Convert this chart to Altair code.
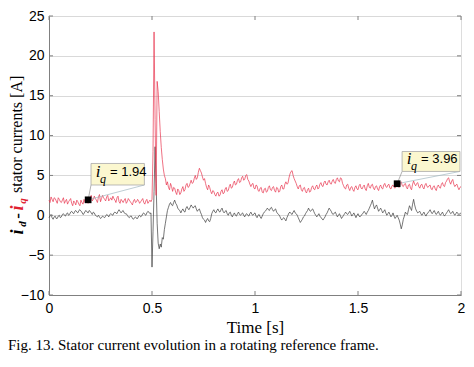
import altair as alt
import pandas as pd
import numpy as np

# ---------------- data ----------------
# before the load step (t = 0.00 ... 0.49, step 0.01)
t_pre = [0.00, 0.01, 0.02, 0.03, 0.04, 0.05, 0.06, 0.07, 0.08, 0.09,
         0.10, 0.11, 0.12, 0.13, 0.14, 0.15, 0.16, 0.17, 0.18, 0.19,
         0.20, 0.21, 0.22, 0.23, 0.24, 0.25, 0.26, 0.27, 0.28, 0.29,
         0.30, 0.31, 0.32, 0.33, 0.34, 0.35, 0.36, 0.37, 0.38, 0.39,
         0.40, 0.41, 0.42, 0.43, 0.44, 0.45, 0.46, 0.47, 0.48, 0.49]
iq_pre = [1.9, 2.3, 1.7, 2.1, 1.5, 2.0, 1.6, 2.2, 1.8, 1.4,
          1.9, 1.5, 1.8, 1.3, 1.7, 1.2, 1.6, 2.0, 1.9, 1.5,
          2.1, 1.8, 2.4, 1.9, 2.3, 1.7, 2.5, 2.0, 2.3, 1.8,
          2.2, 2.4, 1.9, 2.2, 1.7, 2.0, 1.6, 2.1, 1.7, 1.9,
          1.5, 1.8, 1.6, 2.0, 1.5, 1.9, 1.6, 1.8, 1.5, 1.9]
id_pre = [-0.3, 0.1, -0.5, -0.1, -0.4, 0.0, -0.2, 0.2, -0.1, 0.3,
          0.1, 0.5, 0.2, 0.6, 0.3, 0.7, 0.4, 0.2, 0.6, 0.3,
          0.5, 0.1, 0.3, -0.1, 0.0, -0.4, -0.1, -0.3, 0.1, -0.2,
          0.2, 0.0, 0.4, 0.2, 0.7, 0.3, 0.6, 0.2, 0.0, -0.3,
          -0.1, -0.5, -0.2, -0.4, 0.0, -0.1, 0.3, 0.0, 0.5, 0.2]
# in-between samples (t = 0.005 ... 0.485)
iq_pre_half = [1.6, 2.0, 2.2, 1.8, 2.2, 1.7, 1.9, 1.5, 2.0, 1.7,
               2.1, 1.2, 1.6, 1.9, 1.4, 1.9, 1.4, 1.6, 2.2, 1.8,
               2.5, 2.0, 2.1, 1.6, 2.6, 2.1, 2.2, 1.8, 2.5, 2.0,
               1.9, 2.1, 1.6, 2.4, 1.5, 1.8, 1.9, 1.5, 2.1, 1.7,
               1.3, 2.0, 1.7, 1.8, 1.7, 2.1, 1.4, 2.0, 1.7]
id_pre_half = [-0.1, -0.3, -0.2, -0.4, -0.1, -0.3, 0.1, 0.0, 0.2, 0.0,
               0.4, 0.3, 0.5, 0.4, 0.6, 0.5, 0.1, 0.5, 0.4, 0.6,
               0.3, 0.4, 0.0, -0.2, -0.2, -0.3, -0.2, -0.1, 0.0, 0.1,
               0.1, 0.3, 0.3, 0.5, 0.5, 0.5, 0.3, 0.2, -0.2, -0.1,
               -0.4, -0.3, -0.4, -0.1, -0.2, 0.2, 0.1, 0.3, 0.4]

# the transient
t_spike = [0.495, 0.500, 0.505, 0.510, 0.515, 0.520, 0.525, 0.530, 0.535,
           0.540, 0.545, 0.550, 0.555, 0.560, 0.565, 0.570, 0.575]
iq_spike = [1.7, 2.0, 8.0, 23.0, 12.0, 2.5, 16.8, 15.5, 13.0,
            10.5, 8.5, 7.0, 5.8, 5.0, 4.6, 3.8, 4.2]
id_spike = [0.3, -6.5, -2.0, 3.0, 8.6, 4.0, -1.0, -3.5, -4.2,
            -3.6, -4.0, -2.8, -3.0, -1.8, -1.0, -0.2, 0.6]

# after the transient (t = 0.58 ... 2.00, step 0.01)
iq_post = [3.5, 4.0, 3.0, 3.4, 2.6, 3.1, 2.8, 3.6, 3.2, 4.0,
           3.6, 4.4, 4.1, 5.0, 4.7, 5.9, 5.3, 4.4, 4.0, 3.2,
           3.5, 2.7, 3.0, 2.4, 2.9, 2.5, 3.2, 2.8, 3.5, 3.1,
           3.9, 3.5, 4.3, 3.9, 4.6, 4.2, 4.9, 4.5, 5.1, 4.3,
           3.6, 4.0, 3.3, 3.7, 3.0, 3.5, 2.8, 3.4, 3.0, 3.7,
           3.1, 3.6, 2.9, 3.4, 3.0, 3.8, 3.3, 4.2, 4.0, 5.2,
           5.6, 4.6, 4.0, 3.3, 3.8, 3.0, 3.5, 2.8, 3.4, 3.0,
           3.7, 3.2, 3.8, 3.4, 4.1, 3.6, 4.3, 3.8, 4.4, 3.9,
           4.5, 4.0, 4.7, 4.2, 4.6, 3.7, 3.3, 3.9, 3.1, 3.6,
           3.0, 3.7, 3.2, 3.9, 3.3, 3.8, 3.1, 4.0, 3.4, 3.9,
           3.2, 3.7, 3.1, 3.8, 3.3, 4.0, 3.5, 3.9, 3.3, 3.8,
           3.4, 3.96, 3.5, 4.2, 3.6, 4.0, 3.3, 3.9, 3.2, 4.3,
           3.7, 4.1, 3.4, 3.9, 3.3, 4.0, 3.5, 3.8, 3.2, 3.7,
           3.1, 3.8, 3.4, 4.1, 3.6, 4.3, 4.7, 3.9, 4.5, 3.6,
           3.9, 3.2, 3.6]
id_post = [1.0, 1.6, 1.2, 1.9, 1.3, 0.7, 0.3, 0.8, 0.4, 1.1,
           0.7, 1.3, 0.9, 1.2, 0.5, 0.8, 0.1, -0.5, -0.9, -0.4,
           -0.8, 0.2, 0.7, 0.3, 0.8, 0.4, 0.9, 0.3, 0.6, 0.0,
           0.4, -0.2, 0.3, -0.1, 0.4, 0.0, 0.3, -0.2, 0.2, -0.1,
           0.4, 0.0, 0.3, -0.3, 0.1, -0.4, 0.2, 0.5, 0.9, 0.6,
           1.0, 0.5, 0.8, 0.2, -0.1, -0.6, -0.3, -0.7, 0.0, 0.4,
           0.1, 0.6, 0.2, -0.3, -0.9, -0.5, -0.1, 0.4, 0.9, 0.5,
           0.8, 0.2, -0.2, 0.2, -0.3, -0.6, -0.2, 0.3, 0.9, 0.5,
           0.1, 0.4, -0.2, 0.2, -0.4, 0.0, 0.4, 0.1, 0.5, -0.1,
           0.3, -0.3, 0.2, -0.2, 0.1, 0.5, 0.1, 0.6, 1.2, 1.9,
           0.8, 1.3, 0.5, 0.9, 0.3, 0.7, 0.0, 0.4, -0.2, 0.3,
           -0.4, 0.0, -0.6, -1.7, -0.5, 0.4, 0.1, 1.2, 0.6, 2.0,
           0.8, 0.3, 0.5, 0.0, 0.4, -0.1, 0.3, 0.7, 0.2, 0.6,
           0.1, 0.5, 0.0, 0.4, -0.1, 0.3, 0.7, 0.2, 0.5, 0.0,
           0.4, 0.1, 0.3]
# in-between samples (t = 0.585 ... 1.995)
iq_post_half = [3.2, 3.6, 3.5, 2.9, 3.3, 2.6, 3.3, 3.0, 3.8, 3.5,
                4.0, 4.0, 4.6, 4.5, 5.4, 5.6, 4.8, 4.6, 3.5, 3.8,
                3.0, 3.1, 2.6, 2.8, 2.4, 3.0, 2.7, 3.3, 3.0, 3.6,
                3.4, 4.0, 3.8, 4.4, 4.1, 4.7, 4.4, 5.0, 4.5, 3.9,
                3.9, 3.4, 3.8, 3.1, 3.4, 2.9, 3.3, 2.9, 3.5, 3.2,
                3.5, 3.1, 3.5, 2.9, 3.6, 3.3, 3.9, 3.9, 4.7, 5.5,
                5.0, 4.3, 3.6, 3.7, 3.2, 3.4, 3.0, 3.2, 2.9, 3.5,
                3.3, 3.6, 3.3, 3.9, 3.7, 4.1, 3.9, 4.2, 4.0, 4.3,
                4.1, 4.5, 4.3, 4.7, 4.0, 3.4, 3.8, 3.4, 3.5, 3.2,
                3.5, 3.3, 3.7, 3.4, 3.6, 3.3, 3.7, 3.5, 3.8, 3.4,
                3.6, 3.3, 3.6, 3.4, 3.8, 3.6, 3.8, 3.4, 3.7, 3.5,
                3.8, 3.6, 4.0, 3.7, 3.9, 3.5, 3.8, 3.4, 3.9, 3.9,
                4.0, 3.6, 3.8, 3.5, 3.8, 3.6, 3.7, 3.3, 3.6, 3.3,
                3.6, 3.5, 3.9, 3.7, 4.1, 4.6, 4.2, 4.3, 3.9, 3.8,
                3.5, 3.5]
id_post_half = [1.4, 1.3, 1.6, 1.5, 0.9, 0.6, 0.6, 0.5, 0.9, 0.8,
                1.0, 1.1, 1.1, 0.8, 0.7, 0.4, -0.3, -0.6, -0.6, -0.7,
                -0.4, 0.5, 0.4, 0.6, 0.5, 0.7, 0.5, 0.5, 0.2, 0.3,
                0.0, 0.1, 0.0, 0.2, 0.1, 0.2, 0.0, 0.1, 0.0, 0.2,
                0.1, 0.2, -0.1, 0.0, -0.2, -0.1, 0.4, 0.7, 0.7, 0.9,
                0.7, 0.7, 0.4, 0.1, -0.4, -0.4, -0.5, -0.3, 0.3, 0.2,
                0.4, 0.3, 0.0, -0.6, -0.7, -0.2, 0.2, 0.6, 0.6, 0.7,
                0.5, 0.0, 0.0, -0.1, -0.4, -0.4, 0.1, 0.6, 0.7, 0.2,
                0.3, 0.1, 0.0, -0.1, -0.2, 0.2, 0.2, 0.3, 0.2, 0.1,
                0.0, 0.0, -0.1, 0.0, 0.3, 0.3, 0.4, 0.9, 1.5, 1.3,
                1.1, 0.9, 0.7, 0.6, 0.5, 0.3, 0.2, 0.1, 0.0, -0.1,
                -0.2, -0.3, -1.1, -1.2, -0.1, 0.2, 0.7, 0.9, 1.4, 1.3,
                0.5, 0.4, 0.2, 0.2, 0.1, 0.2, 0.5, 0.4, 0.4, 0.3,
                0.3, 0.2, 0.2, 0.1, 0.1, 0.5, 0.4, 0.3, 0.2, 0.2,
                0.2, 0.2]

ann_x = [0.19, 1.69]
ann_y = [1.94, 3.96]
ann_val = ["= 1.94", "= 3.96"]
box_x1 = [0.204, 1.714]
box_x2 = [0.463, 1.995]
box_y1 = [3.8, 5.5]
box_y2 = [6.5, 8.0]

x_ticks = [0, 0.5, 1, 1.5, 2]
y_ticks = [-10, -5, 0, 5, 10, 15, 20, 25]
x_title = "Time [s]"
y_title_rest = "stator currents [A]"
caption = "Fig. 13. Stator current evolution in a rotating reference frame."

# ---------------- build tables ----------------
t_pre_half = list(np.round(np.arange(len(iq_pre_half)) / 100 + 0.005, 3))
t_post = list(np.round(np.arange(58, 201) / 100, 2))
t_post_half = list(np.round(np.arange(58, 58 + len(iq_post_half)) / 100 + 0.005, 3))

t_all = [float(v) for v in list(t_pre) + t_pre_half + list(t_spike) + t_post + t_post_half]
iq_all = iq_pre + iq_pre_half + iq_spike + iq_post + iq_post_half
id_all = id_pre + id_pre_half + id_spike + id_post + id_post_half
assert len(t_all) == len(iq_all) == len(id_all)

df = pd.DataFrame({"t": t_all, "iq": iq_all, "id": id_all}).sort_values("t")

xs = alt.Scale(domain=[0, 2], nice=False, zero=False)
ys = alt.Scale(domain=[-10, 25], nice=False, zero=False)

W, H = 412, 279

xax = alt.Axis(values=x_ticks, labelExpr="datum.value", tickSize=0, labelPadding=6,
               labelFlush=False, labelOverlap=False, tickCount=5,
               grid=False, domainColor="#808080", labelFont="Liberation Sans",
               labelFontSize=14, labelColor="black", title=x_title,
               titleFont="Liberation Serif", titleFontSize=17, titleFontWeight="normal",
               titleColor="black", titlePadding=4)
yax = alt.Axis(values=y_ticks, tickSize=0, labelPadding=5, grid=True,
               labelFlush=False, labelOverlap=False, tickCount=8,
               gridColor="#d9d9d9", gridWidth=1, domainColor="#808080",
               labelFont="Liberation Sans", labelFontSize=14, labelColor="black",
               title=None)


def X(field):
    return alt.X(field, scale=xs, axis=xax)


def Y(field):
    return alt.Y(field, scale=ys, axis=yax)


line_id = alt.Chart(df).mark_line(color="#3c3c3c", strokeWidth=0.7).encode(
    x=X("t:Q"), y=Y("id:Q"))
line_iq = alt.Chart(df).mark_line(color="#e8334d", strokeWidth=0.7).encode(
    x=X("t:Q"), y=Y("iq:Q"))

# inward tick marks (box ticks)
tx = pd.DataFrame({"t": x_ticks})
ty = pd.DataFrame({"v": y_ticks})
tick_b = alt.Chart(tx).mark_rule(color="#808080", strokeWidth=1).encode(
    x=X("t:Q"), y=alt.value(H), y2=alt.value(H - 4))
tick_t = alt.Chart(tx).mark_rule(color="#808080", strokeWidth=1).encode(
    x=X("t:Q"), y=alt.value(0), y2=alt.value(4))
tick_l = alt.Chart(ty).mark_rule(color="#808080", strokeWidth=1).encode(
    y=Y("v:Q"), x=alt.value(0), x2=alt.value(4))
tick_r = alt.Chart(ty).mark_rule(color="#808080", strokeWidth=1).encode(
    y=Y("v:Q"), x=alt.value(W), x2=alt.value(W - 4))

# data tips
ann = pd.DataFrame({"x": ann_x, "y": ann_y, "val": ann_val,
                    "bx1": box_x1, "bx2": box_x2, "by1": box_y1, "by2": box_y2})
ann["mid"] = (ann["by1"] + ann["by2"]) / 2
lines1 = alt.Chart(ann).mark_rule(color="#909090", strokeWidth=0.7).encode(
    x=X("x:Q"), y=Y("y:Q"), x2="bx1:Q", y2="by1:Q")
lines2 = alt.Chart(ann).mark_rule(color="#a0b8c0", strokeWidth=0.7).encode(
    x=X("x:Q"), y=Y("y:Q"), x2="bx2:Q", y2="by1:Q")
boxes = alt.Chart(ann).mark_rect(fill="#fbf7cf", stroke="#a8a8a8", strokeWidth=0.8).encode(
    x=X("bx1:Q"), x2="bx2:Q", y=Y("by1:Q"), y2="by2:Q")
markers = alt.Chart(ann).mark_square(color="black", size=45, opacity=1).encode(
    x=X("x:Q"), y=Y("y:Q"))
ann_i = alt.Chart(ann).mark_text(text="i", font="Liberation Serif", fontStyle="italic",
                                 fontSize=17, align="center", baseline="middle",
                                 dx=7, dy=-2, color="black").encode(
    x=X("bx1:Q"), y=Y("mid:Q"))
ann_q = alt.Chart(ann).mark_text(text="q", font="Liberation Serif", fontStyle="italic",
                                 fontSize=12, align="center", baseline="middle",
                                 dx=12, dy=5, color="black").encode(
    x=X("bx1:Q"), y=Y("mid:Q"))
ann_v = alt.Chart(ann).mark_text(font="Liberation Sans", fontSize=13, align="left",
                                 baseline="middle", dx=19, dy=-2, color="black").encode(
    x=X("bx1:Q"), y=Y("mid:Q"), text="val:N")


def label(txt, x, y, size, color="black", weight="normal", style="normal",
          align="center", font="Liberation Serif", angle=270):
    return alt.Chart(pd.DataFrame({"s": [txt]})).mark_text(
        font=font, fontSize=size, fontWeight=weight, fontStyle=style, color=color,
        align=align, baseline="middle", angle=angle).encode(
        text="s:N", x=alt.value(x), y=alt.value(y))


ylab = [
    label("i", -31, 216, 18, weight="bold", style="italic"),
    label("d", -26, 208, 11, weight="bold", style="italic"),
    label("-", -31, 200, 17, weight="bold"),
    label("i", -31, 192, 18, color="#e0202f", weight="bold", style="italic"),
    label("q", -26, 185, 11, color="#e0202f", weight="bold", style="italic"),
    label(y_title_rest, -32, 177, 16, align="left"),
]
cap = label(caption, -41, 329, 15, align="left", angle=0)

chart = alt.layer(
    line_id, line_iq, tick_b, tick_t, tick_l, tick_r,
    lines1, lines2, boxes, markers, ann_i, ann_q, ann_v, *ylab, cap
).properties(
    width=W, height=H, autosize="none",
    padding={"left": 41, "top": 8, "right": 5, "bottom": 59},
).configure_view(stroke="#808080", strokeWidth=1).configure(background="white")

chart.save("out.html", embed_options={"renderer": "svg", "actions": False})
